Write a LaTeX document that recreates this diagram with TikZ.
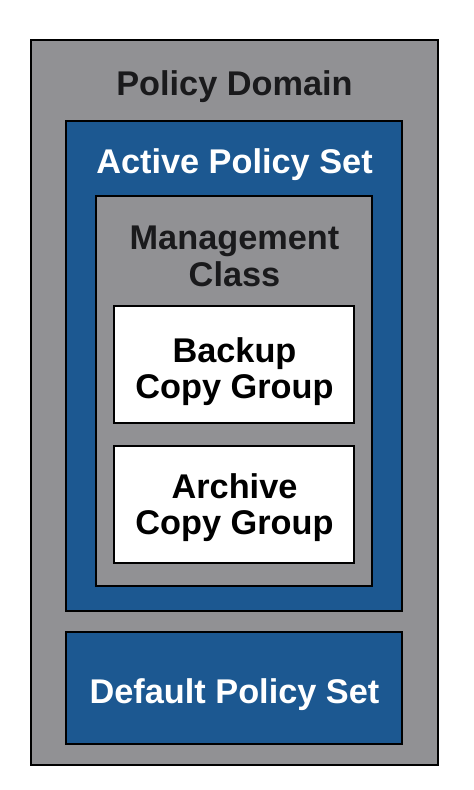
\documentclass[tikz,border=0pt]{standalone}
\usepackage{fontspec}
\setmainfont{Liberation Sans}
\definecolor{pgray}{RGB}{145,145,148}
\definecolor{pblue}{RGB}{28,88,145}
\definecolor{ptext}{RGB}{26,26,28}
\tikzset{
  box/.style={draw=black,line width=1.6pt,inner sep=0pt,minimum width=#1},
  graybox/.style={box=#1,fill=pgray},
  bluebox/.style={box=#1,fill=pblue},
  whitebox/.style={box=#1,fill=white},
  lbl/.style={font=\bfseries\fontsize{34.3}{37}\selectfont,anchor=base,inner sep=0pt},
}
\begin{document}
\begin{tikzpicture}[x=1pt,y=-1pt]
\useasboundingbox (0,0) rectangle (474,790);
\fill[white] (0,0) rectangle (474,790);
\node[graybox=407pt,minimum height=725pt] (domain) at (234.5,402.5) {};
\node[bluebox=336pt,minimum height=490pt] (active) at (234,366) {};
\node[graybox=276pt,minimum height=390pt] (mgmt) at (234,391) {};
\node[whitebox=240pt,minimum height=117pt] (backup) at (234,364.5) {};
\node[whitebox=240pt,minimum height=117pt] (archive) at (234,504.5) {};
\node[bluebox=336pt,minimum height=112pt] (default) at (234,688) {};
\node[lbl,text=ptext] (tdomain) at (234.5,95) {Policy Domain};
\node[lbl,text=white] (tactive) at (234.5,173) {Active Policy Set};
\node[lbl,text=ptext] (tmgmt1) at (234.5,249) {Management};
\node[lbl,text=ptext] (tmgmt2) at (234.5,286) {Class};
\node[lbl,text=black] (tbackup1) at (234.5,362) {Backup};
\node[lbl,text=black] (tbackup2) at (234.5,398) {Copy Group};
\node[lbl,text=black] (tarchive1) at (234.5,498) {Archive};
\node[lbl,text=black] (tarchive2) at (234.5,534) {Copy Group};
\node[lbl,text=white] (tdefault) at (234.5,703) {Default Policy Set};
\end{tikzpicture}
\end{document}
